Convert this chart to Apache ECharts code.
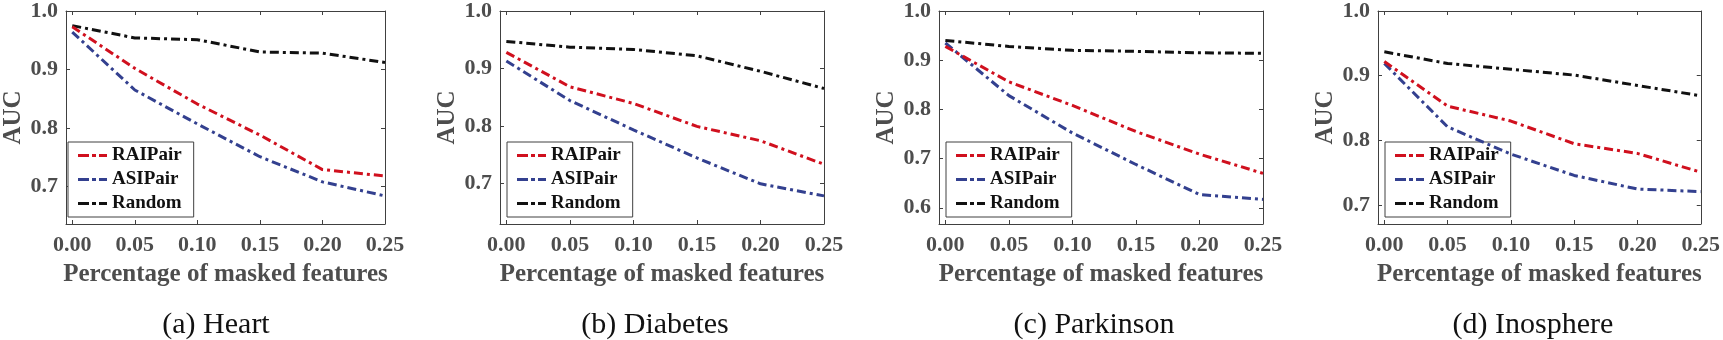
<!DOCTYPE html>
<html>
<head>
<meta charset="utf-8">
<title>AUC vs masked features</title>
<script src="https://cdn.jsdelivr.net/npm/echarts@6/dist/echarts.min.js"></script>
<style>
  html, body { margin: 0; padding: 0; background: #fff; }
  #chart { width: 1723px; height: 340px; }
</style>
</head>
<body>
<div id="chart"></div>
<script>
// x positions (percentage of masked features)
const xValues = [0, 0.05, 0.10, 0.15, 0.20, 0.25]
const seriesNames = ['RAIPair', 'ASIPair', 'Random']
const captions = ['(a) Heart', '(b) Diabetes', '(c) Parkinson', '(d) Inosphere']

// AUC
const heartRAI = [0.973, 0.902, 0.841, 0.788, 0.729, 0.718]
const heartASI = [0.964, 0.865, 0.807, 0.751, 0.708, 0.684]
const heartRandom = [0.975, 0.954, 0.951, 0.930, 0.928, 0.912]

const diabetesRAI = [0.928, 0.868, 0.839, 0.799, 0.774, 0.733]
const diabetesASI = [0.913, 0.844, 0.793, 0.744, 0.699, 0.678]
const diabetesRandom = [0.947, 0.937, 0.933, 0.922, 0.895, 0.865]

const parkinsonRAI = [0.928, 0.856, 0.808, 0.755, 0.709, 0.670]
const parkinsonASI = [0.935, 0.828, 0.752, 0.688, 0.627, 0.617]
const parkinsonRandom = [0.940, 0.928, 0.920, 0.918, 0.915, 0.914]

const ionosphereRAI = [0.922, 0.853, 0.830, 0.795, 0.780, 0.751]
const ionosphereASI = [0.919, 0.821, 0.779, 0.746, 0.725, 0.721]
const ionosphereRandom = [0.937, 0.919, 0.910, 0.901, 0.885, 0.869]

// y axis ranges and tick labels per panel
const yMins = [0.636, 0.629, 0.567, 0.671]
const yTicks = [
  [0.7, 0.8, 0.9, 1.0],
  [0.7, 0.8, 0.9, 1.0],
  [0.6, 0.7, 0.8, 0.9, 1.0],
  [0.7, 0.8, 0.9, 1.0]
]

const panels = [
  [heartRAI, heartASI, heartRandom],
  [diabetesRAI, diabetesASI, diabetesRandom],
  [parkinsonRAI, parkinsonASI, parkinsonRandom],
  [ionosphereRAI, ionosphereASI, ionosphereRandom]
]

const colors = ['#d0101e', '#33408f', '#111111']
const gridLefts = [61, 500, 939, 1378]
const gridWidth = 324
const frameColor = '#404040'
const serif = '"Liberation Serif", "Times New Roman", serif'
const dashDot = [9, 4, 3, 4]
// legend sample: dash, dot, dash
const legendIcon = 'path://M0,0h11v3h-11z M14,0h4v3h-4z M21,0h8v3h-8z'

const grids = []
const xAxes = []
const yAxes = []
const series = []
const legends = []
const titles = []

gridLefts.forEach((left, i) => {
  grids.push({ left: left, top: 7, width: gridWidth, height: 217 })

  const tickStyle = { show: true, inside: true, length: 4, lineStyle: { color: frameColor } }
  // bottom x axis with labels
  xAxes.push({
    type: 'value',
    gridIndex: i,
    min: -0.005,
    max: 0.25,
    name: 'Percentage of masked features',
    nameLocation: 'middle',
    nameGap: 38,
    nameTextStyle: { fontFamily: serif, fontWeight: 'bold', fontSize: 25, color: '#4d4d4d' },
    axisLine: { show: true, lineStyle: { color: frameColor } },
    axisTick: Object.assign({ customValues: xValues }, tickStyle),
    axisLabel: {
      customValues: xValues,
      margin: 10,
      fontFamily: serif,
      fontWeight: 'bold',
      fontSize: 22,
      color: '#4d4d4d',
      formatter: v => v.toFixed(2)
    },
    splitLine: { show: false }
  })
  // top x axis, ticks only
  xAxes.push({
    type: 'value',
    gridIndex: i,
    position: 'top',
    min: -0.005,
    max: 0.25,
    axisLine: { show: true, onZero: false, lineStyle: { color: frameColor } },
    axisTick: Object.assign({ customValues: xValues }, tickStyle),
    axisLabel: { show: false },
    splitLine: { show: false }
  })
  // left y axis with labels
  yAxes.push({
    type: 'value',
    gridIndex: i,
    min: yMins[i],
    max: 1.0,
    name: 'AUC',
    nameLocation: 'middle',
    nameGap: 40,
    nameTextStyle: { fontFamily: serif, fontWeight: 'bold', fontSize: 25, color: '#4d4d4d' },
    axisLine: { show: true, onZero: false, lineStyle: { color: frameColor } },
    axisTick: Object.assign({ customValues: yTicks[i] }, tickStyle),
    axisLabel: {
      customValues: yTicks[i],
      margin: 8,
      fontFamily: serif,
      fontWeight: 'bold',
      fontSize: 22,
      color: '#4d4d4d',
      formatter: v => v.toFixed(1)
    },
    splitLine: { show: false }
  })
  // right y axis, ticks only
  yAxes.push({
    type: 'value',
    gridIndex: i,
    position: 'right',
    min: yMins[i],
    max: 1.0,
    axisLine: { show: true, onZero: false, lineStyle: { color: frameColor } },
    axisTick: Object.assign({ customValues: yTicks[i] }, tickStyle),
    axisLabel: { show: false },
    splitLine: { show: false }
  })

  panels[i].forEach((vals, k) => {
    series.push({
      name: seriesNames[k],
      type: 'line',
      xAxisIndex: i * 2,
      yAxisIndex: i * 2,
      data: xValues.map((x, j) => [x, vals[j]]),
      symbol: 'none',
      z: 10 - k,
      lineStyle: { color: colors[k], width: 3, type: dashDot },
      itemStyle: { color: colors[k] }
    })
  })

  legends.push({
    data: seriesNames,
    icon: legendIcon,
    orient: 'vertical',
    left: left + 7,
    top: 142,
    itemWidth: 29,
    itemHeight: 3,
    itemGap: 5,
    padding: [4, 12, 4, 10],
    borderColor: frameColor,
    borderWidth: 1,
    borderRadius: 0,
    backgroundColor: '#fff',
    selectedMode: false,
    textStyle: { fontFamily: serif, fontWeight: 'bold', fontSize: 19, color: '#111' }
  })

  titles.push({
    text: captions[i],
    left: left + gridWidth / 2 - 12,
    textAlign: 'center',
    top: 305,
    textStyle: { fontFamily: serif, fontWeight: 'normal', fontSize: 30, color: '#111' }
  })
})

const chart = echarts.init(document.getElementById('chart'))
chart.setOption({
  animation: false,
  title: titles,
  legend: legends,
  grid: grids,
  xAxis: xAxes,
  yAxis: yAxes,
  series: series
})
</script>
</body>
</html>
